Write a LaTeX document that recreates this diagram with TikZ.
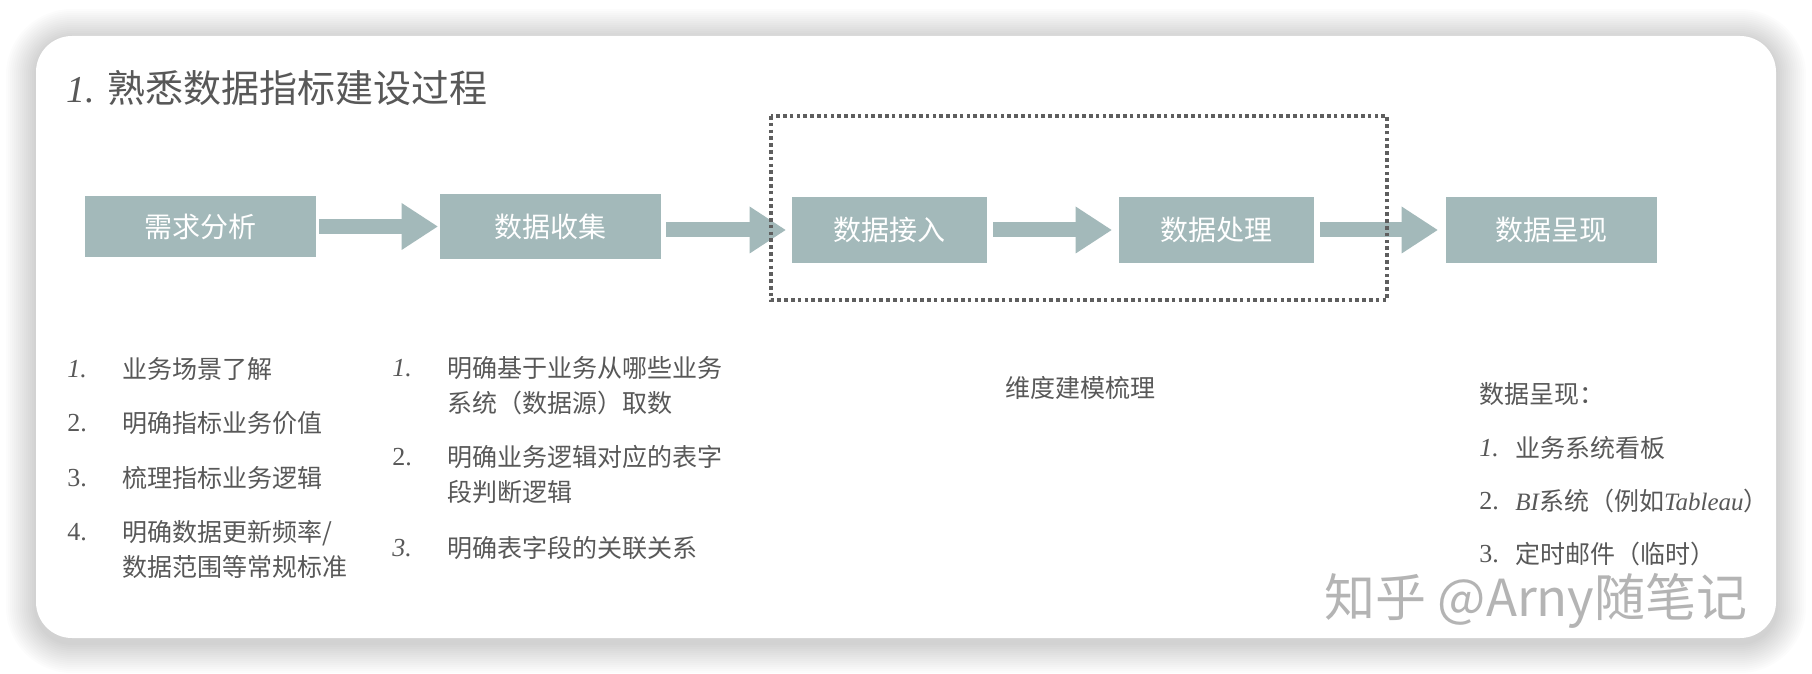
\documentclass[tikz,border=0pt]{standalone}
\usepackage{fontspec}
\usepackage{xcolor}
\usepackage{tikz}
\usetikzlibrary{arrows.meta, positioning, calc}
\setmainfont{Liberation Serif}
\newfontfamily\cjk{Noto Sans CJK SC}
\definecolor{boxgray}{HTML}{A3B9BA}
\definecolor{txtgray}{HTML}{585858}
\definecolor{dotgray}{HTML}{5E5E5E}
\definecolor{markgray}{HTML}{B4B4B4}

\begin{document}
\begin{tikzpicture}[x=0.5pt, y=-0.5pt,
    stage/.style={fill=boxgray, text=white, inner sep=0pt, font=\cjk\fontsize{14}{16}\selectfont},
    flow/.style={draw=boxgray, line width=7.5pt, -{Triangle[length=18pt, width=23.5pt, line width=0pt]}},
    num/.style={anchor=west, inner sep=0pt, text=txtgray, font=\fontsize{13}{17.5}\selectfont},
    item/.style={anchor=west, inner sep=0pt, align=left, text=txtgray, font=\cjk\fontsize{12.5}{17.5}\selectfont}]
    \fill[white] (0,0) rectangle (1812,674);
    \useasboundingbox (0,0) rectangle (1812,674);
    % card with soft shadow
    \foreach \k in {1,...,15}
        \fill[black, opacity=0.012, rounded corners={18pt+\k pt}] ({36-2*\k},{36-2*\k+3}) rectangle ({1776+2*\k},{638+2*\k+5});
    \fill[white, rounded corners=18pt] (36,36) rectangle (1776,638);

    \node[anchor=west, inner sep=0pt, text=txtgray, font=\fontsize{19}{22}\selectfont] (title) at (66,88) {\textit{1.} {\cjk 熟悉数据指标建设过程}};

    % process boxes
    \node[stage, minimum width=115.5pt, minimum height=30.5pt] (need) at (200.5,226.5) {需求分析};
    \node[stage, minimum width=110.5pt, minimum height=32.5pt] (collect) at (550.5,226.5) {数据收集};
    \node[stage, minimum width=97.5pt, minimum height=33pt] (access) at (889.5,230) {数据接入};
    \node[stage, minimum width=97.5pt, minimum height=33pt] (proc) at (1216.5,230) {数据处理};
    \node[stage, minimum width=105.5pt, minimum height=33pt] (show) at (1551.5,230) {数据呈现};

    \draw[flow, shorten <=1.5pt, shorten >=1pt] (need) -- (collect);
    \draw[flow, shorten <=2.5pt, shorten >=3pt] (collect.east |- access.west) -- (access.west);
    \draw[flow, shorten <=3pt, shorten >=3.5pt] (access) -- (proc);
    \draw[flow, shorten <=3pt, shorten >=4pt] (proc) -- (show);

    \draw[dotgray, line width=1.6pt, dash pattern=on 1.8pt off 1.6pt] (771,116) rectangle (1387,300);

    % demand analysis
    \node[num] (n11) at (67,369) {\textit{1.}};
    \node[item] (t11) at (122,369) {业务场景了解};
    \node[num] (n12) at (67,423) {2.};
    \node[item] (t12) at (122,423) {明确指标业务价值};
    \node[num] (n13) at (67,478) {3.};
    \node[item] (t13) at (122,478) {梳理指标业务逻辑};
    \node[num] (n14) at (67,532) {4.};
    \node[item] (t14) at (122,549.5) {明确数据更新频率/\\数据范围等常规标准};

    % data collection
    \node[num] (n21) at (392,368) {\textit{1.}};
    \node[item] (t21) at (447,385.5) {明确基于业务从哪些业务\\系统（数据源）取数};
    \node[num] (n22) at (392,457) {2.};
    \node[item] (t22) at (447,474.5) {明确业务逻辑对应的表字\\段判断逻辑};
    \node[num] (n23) at (392,548) {\textit{3.}};
    \node[item] (t23) at (447,548) {明确表字段的关联关系};

    \node[item] (model) at (1005,388) {维度建模梳理};

    % presentation
    \node[item] (t40) at (1479,394) {数据呈现：};
    \node[num] (n41) at (1479,448) {\textit{1.}};
    \node[item] (t41) at (1515,448) {业务系统看板};
    \node[num] (n42) at (1479,501) {2.};
    \node[item] (t42) at (1515,501) {{\normalfont\itshape BI}系统（例如{\normalfont\itshape Tableau}）};
    \node[num] (n43) at (1479,554) {3.};
    \node[item] (t43) at (1515,554) {定时邮件（临时）};

    \node[anchor=west, inner sep=0pt, text=markgray, font=\cjk\fontsize{25.5}{30}\selectfont] (mark) at (1324,601) {知乎 @Arny随笔记};
\end{tikzpicture}
\end{document}
